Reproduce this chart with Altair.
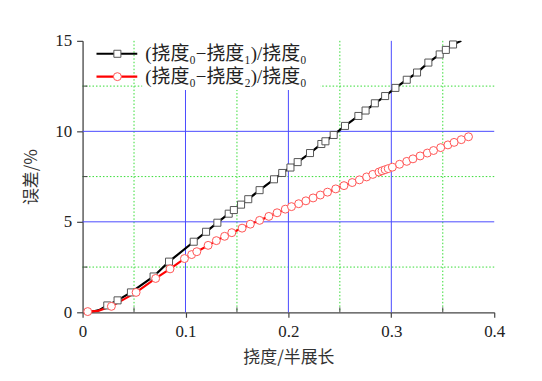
import altair as alt
import pandas as pd

# ---- data ----
black_x = [0.008, 0.016, 0.024, 0.034, 0.047, 0.069, 0.084, 0.108, 0.120, 0.131,
           0.142, 0.147, 0.154, 0.161, 0.172, 0.186, 0.194, 0.202, 0.209, 0.221,
           0.232, 0.236, 0.244, 0.255, 0.268, 0.275, 0.284, 0.294, 0.304, 0.315,
           0.325, 0.336, 0.347, 0.353, 0.360, 0.368]
black_y = [0.02, 0.12, 0.38, 0.66, 1.10, 1.98, 2.80, 3.90, 4.45, 4.95,
           5.45, 5.65, 5.95, 6.25, 6.75, 7.35, 7.70, 8.00, 8.30, 8.80,
           9.30, 9.45, 9.80, 10.30, 10.85, 11.15, 11.55, 11.95, 12.40, 12.85,
           13.25, 13.80, 14.25, 14.50, 14.80, 15.00]
black_marker = [0, 0] + [1] * 33 + [0]

red_x = [0.005, 0.015, 0.028, 0.052, 0.071, 0.085, 0.099, 0.106, 0.111, 0.122,
         0.130, 0.138, 0.145, 0.155, 0.163, 0.172, 0.181, 0.189, 0.197, 0.203,
         0.210, 0.217, 0.224, 0.231, 0.238, 0.246, 0.254, 0.262, 0.269, 0.276,
         0.282, 0.288, 0.291, 0.294, 0.297, 0.301, 0.308, 0.315, 0.321, 0.328,
         0.335, 0.341, 0.348, 0.355, 0.361, 0.368, 0.375]
red_y = [0.04, 0.08, 0.33, 1.10, 1.87, 2.40, 2.97, 3.19, 3.35, 3.70,
         3.96, 4.20, 4.40, 4.65, 4.87, 5.08, 5.30, 5.50, 5.70, 5.84,
         6.00, 6.16, 6.32, 6.48, 6.64, 6.82, 7.00, 7.17, 7.32, 7.48,
         7.62, 7.75, 7.82, 7.88, 7.94, 8.02, 8.18, 8.34, 8.48, 8.64,
         8.80, 8.94, 9.10, 9.25, 9.39, 9.54, 9.70]
red_marker = [1, 0] + [1] * 45

legend_labels = ["(挠度₀−挠度₁)/挠度₀", "(挠度₀−挠度₂)/挠度₀"]

x_major = [0.1, 0.2, 0.3]
x_minor = [0.05, 0.15, 0.25, 0.35]
y_major = [5, 10]
y_minor = [2.5, 7.5, 12.5]
x_ticks = [0, 0.1, 0.2, 0.3, 0.4]
y_ticks = [0, 5, 10, 15]

W, H = 414, 273
FONT = "Liberation Serif, Noto Sans CJK SC"
CJK = "Noto Sans CJK SC"
TXT = "#222222"

black = pd.DataFrame({"x": black_x, "y": black_y, "m": black_marker})
red = pd.DataFrame({"x": red_x, "y": red_y, "m": red_marker})

xs = alt.Scale(domain=[0, 0.4], nice=False, zero=False)
ys = alt.Scale(domain=[0, 15], nice=False, zero=False)

X = alt.X("x:Q", scale=xs, title="挠度/半展长",
          axis=alt.Axis(values=x_ticks, format="~g", grid=False, tickSize=5,
                        labelFlush=False, labelPadding=6, titlePadding=10))
Y = alt.Y("y:Q", scale=ys, title="误差/%",
          axis=alt.Axis(values=y_ticks, grid=False, tickSize=6, labelFlush=False,
                        labelPadding=5, titlePadding=14))

base_empty = alt.Chart(pd.DataFrame({"x": [0.0], "y": [0.0]}))

DOT = dict(color="#33dd33", strokeWidth=1, strokeDash=[1.5, 2])
BLUE = dict(color="#4a4aff", strokeWidth=1)

gx_minor = alt.Chart(pd.DataFrame({"x": x_minor})).mark_rule(**DOT).encode(x=X)
gy_minor = alt.Chart(pd.DataFrame({"y": y_minor})).mark_rule(**DOT).encode(y=Y)
gx_major = alt.Chart(pd.DataFrame({"x": x_major})).mark_rule(**BLUE).encode(x=X)
gy_major = alt.Chart(pd.DataFrame({"y": y_major})).mark_rule(**BLUE).encode(y=Y)

# minor ticks inside the axes
tx_minor = alt.Chart(pd.DataFrame({"x": x_minor})).mark_rule(
    color="#444444", strokeWidth=1).encode(x=X, y=alt.value(H), y2=alt.value(H - 5))
ty_minor = alt.Chart(pd.DataFrame({"y": y_minor})).mark_rule(
    color="#444444", strokeWidth=1).encode(y=Y, x=alt.value(0), x2=alt.value(5))

# white legend background (thick rule)
legend_box = base_empty.mark_rule(color="white", strokeWidth=50, strokeCap="butt").encode(
    x=alt.value(60), x2=alt.value(239), y=alt.value(24.5))

black_line = alt.Chart(black).mark_line(color="black", strokeWidth=2.2, clip=True).encode(
    x=X, y=Y, order="x:Q")
black_pts = alt.Chart(black).transform_filter("datum.m == 1").mark_point(
    shape="square", size=50, filled=True, fill="white", stroke="#555555",
    strokeWidth=1, opacity=1).encode(x=X, y=Y)
red_line = alt.Chart(red).mark_line(color="#ff0000", strokeWidth=2.2).encode(
    x=X, y=Y, order="x:Q")
red_pts = alt.Chart(red).transform_filter("datum.m == 1").mark_point(
    shape="circle", size=64, filled=True, fill="white", stroke="#ff5555",
    strokeWidth=1, opacity=1).encode(x=X, y=Y)

leg_y = [13, 36]
leg = []
for i, (lc, shape, sc) in enumerate([("black", "square", "#555555"),
                                      ("#ff0000", "circle", "#ff5555")]):
    leg.append(base_empty.mark_rule(color=lc, strokeWidth=2.2).encode(
        x=alt.value(14), x2=alt.value(55), y=alt.value(leg_y[i])))
    leg.append(base_empty.mark_point(
        shape=shape, size=50 if shape == "square" else 64, filled=True,
        fill="white", stroke=sc, strokeWidth=1, opacity=1).encode(
        x=alt.value(35), y=alt.value(leg_y[i])))
    leg.append(alt.Chart(pd.DataFrame({"t": [legend_labels[i]]})).mark_text(
        align="left", baseline="middle", font=FONT, fontSize=19, color=TXT).encode(
        x=alt.value(63), y=alt.value(leg_y[i]), text="t:N"))

chart = alt.layer(
    gx_minor, gy_minor, gx_major, gy_major, legend_box,
    black_line, red_line, black_pts, red_pts, tx_minor, ty_minor, *leg
).properties(
    width=W, height=H,
    autosize=alt.AutoSizeParams(type="none"),
    padding={"left": 75, "top": 32, "right": 40, "bottom": 60},
).configure_view(stroke=None).configure_axis(
    domainColor="#444444", domainWidth=1.3, tickColor="#444444", tickWidth=1.2,
    labelFont=FONT, labelFontSize=17, labelColor=TXT,
    titleFont=CJK, titleFontSize=17, titleColor="#333333", titleFontWeight="normal",
)

chart.save("out.html", embed_options={"renderer": "svg", "actions": False})
